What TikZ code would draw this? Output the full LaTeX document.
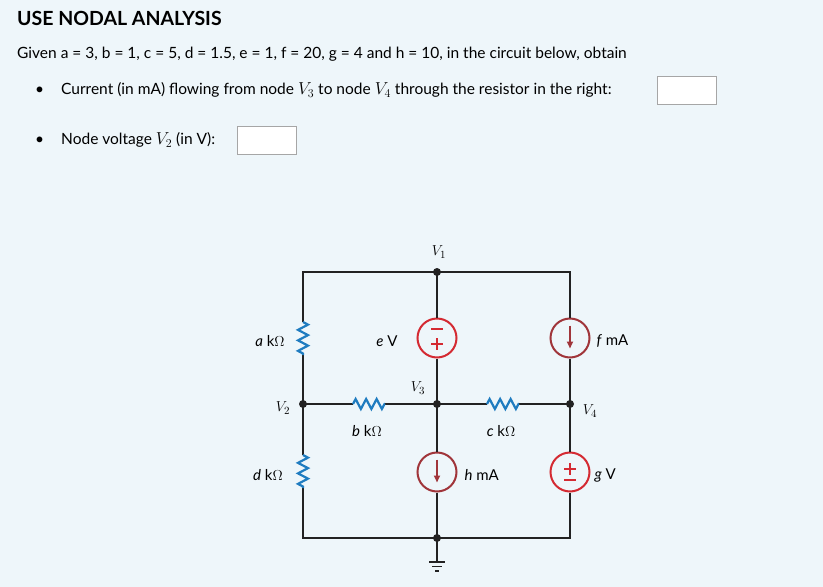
\documentclass[tikz,border=0pt]{standalone}
\usepackage{fontspec}
\setmainfont{Lato}
\usetikzlibrary{decorations.pathmorphing,arrows.meta}
\definecolor{bg}{HTML}{EEF6FA}
\definecolor{wire}{HTML}{222222}
\definecolor{res}{HTML}{1F7CC0}
\definecolor{vsrc}{HTML}{D42A32}
\definecolor{isrc}{HTML}{A0353A}
\begin{document}
\begin{tikzpicture}[x=1pt,y=-1pt,
  w/.style={draw=wire,line width=2.6pt},
  rz/.style={draw=res,line width=2.2pt,decorate,decoration={zigzag,segment length=10.5pt,amplitude=5pt}},
  dot/.style={circle,fill=wire,inner sep=0pt,minimum size=8pt},
  vs/.style={circle,draw=vsrc,line width=2pt,fill=bg,minimum size=39pt,inner sep=0pt},
  is/.style={circle,draw=isrc,line width=2pt,fill=bg,minimum size=39pt,inner sep=0pt},
  lbl/.style={font=\fontsize{15}{17}\selectfont},
  vl/.style={font=\fontsize{15}{17}\selectfont},
  txt/.style={anchor=west,font=\fontsize{15.5}{18}\selectfont},
  ans/.style={draw=gray!70,line width=1pt,fill=white,minimum width=59pt,minimum height=28pt,inner sep=0pt}]
\fill[bg] (0,0) rectangle (823,587);
\useasboundingbox (0,0) rectangle (823,587);
\node[anchor=west,font=\fontsize{19.5}{22}\selectfont\bfseries,inner sep=0pt] (title) at (17,18) {USE NODAL ANALYSIS};
\node[txt,inner sep=0pt] (given) at (17,54) {Given a = 3, b = 1, c = 5, d = 1.5, e = 1, f = 20, g = 4 and h = 10, in the circuit below, obtain};
\node[txt,inner sep=0pt] (b1) at (35,90) {\textbullet\hspace{17pt}Current (in mA) flowing from node {\fontsize{18}{20}\selectfont$V_3$} to node {\fontsize{18}{20}\selectfont$V_4$} through the resistor in the right:};
\node[ans,anchor=west] (box1) at (657,90) {};
\node[txt,inner sep=0pt] (b2) at (35,140) {\textbullet\hspace{17pt}Node voltage {\fontsize{18}{20}\selectfont$V_2$} (in V):};
\node[ans,anchor=west] (box2) at (237,140) {};
% coordinates
\coordinate (TL) at (303,272); \coordinate (T) at (437,272); \coordinate (TR) at (570,272);
\coordinate (ML) at (303,404); \coordinate (M) at (437,404); \coordinate (MR) at (570,404);
\coordinate (BL) at (303,538); \coordinate (B) at (437,538); \coordinate (BR) at (570,538);
\coordinate (G) at (437,563);
\node[vs] (e) at (437,338) {};
\node[is] (f) at (570,338) {};
\node[is] (h) at (437,472) {};
\node[vs] (g) at (570,472) {};
\coordinate (a1) at (303,322); \coordinate (a2) at (303,355);
\coordinate (d1) at (303,455); \coordinate (d2) at (303,488);
\coordinate (b1r) at (353,404); \coordinate (b2r) at (385,404);
\coordinate (c1) at (487,404); \coordinate (c2) at (519,404);
\draw[w] (a1) -- (TL) -- (TR) -- (f.north);
\draw[w] (f.south) -- (MR) -- (g.north);
\draw[w] (g.south) -- (BR) -- (BL) -- (d2);
\draw[w] (d1) -- (ML) -- (a2);
\draw[w] (ML) -- (b1r); \draw[w] (b2r) -- (c1); \draw[w] (c2) -- (MR);
\draw[w] (T) -- (e.north); \draw[w] (e.south) -- (h.north); \draw[w] (h.south) -- (G);
\draw[rz] (a1) -- (a2); \draw[rz] (d1) -- (d2);
\draw[rz] (b1r) -- (b2r); \draw[rz] (c1) -- (c2);
\foreach \n in {T,ML,M,MR,B} \node[dot] at (\n) {};
\draw[wire,line width=1.6pt] (429,562)--(445,562) (432,566.5)--(442,566.5) (435,571)--(439,571);
% source marks
\draw[vsrc,line width=1.3pt] (431,329)--(443,329) (431,344)--(443,344) (437,338)--(437,350);
\draw[vsrc,line width=1.3pt] (564,469)--(576,469) (570,463)--(570,475) (564,480)--(576,480);
\draw[isrc,line width=1.8pt,-{Triangle[length=7pt,width=6pt]}] (f.north)++(0,8) -- ++(0,23);
\draw[isrc,line width=1.8pt,-{Triangle[length=7pt,width=6pt]}] (h.north)++(0,8) -- ++(0,23);
% labels
\node[vl] (V1) at (439,252) {$V_1$};
\node[vl] (V2) at (283,408) {$V_2$};
\node[vl] (V3) at (418,388) {$V_3$};
\node[vl] (V4) at (590,411) {$V_4$};
\node[lbl] at (270,341) {\textit{a} k$\Omega$};
\node[lbl] at (268,475) {\textit{d} k$\Omega$};
\node[lbl] at (367,431) {\textit{b} k$\Omega$};
\node[lbl] at (501,431) {\textit{c} k$\Omega$};
\node[lbl] at (387,341) {\textit{e} V};
\node[lbl,anchor=west] at (593,341) {\textit{f} mA};
\node[lbl,anchor=west] at (461,475) {\textit{h} mA};
\node[lbl,anchor=west] at (591,475) {\textit{g} V};
\end{tikzpicture}
\end{document}
